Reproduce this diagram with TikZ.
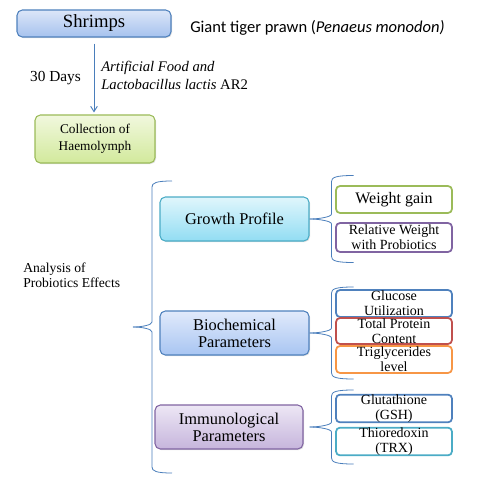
\documentclass[tikz,border=0pt]{standalone}
\usepackage{fontspec}
\setmainfont{Liberation Serif}
\newfontfamily\prawnfont{Carlito}
\usetikzlibrary{arrows.meta,shadows}

\definecolor{lineblue}{HTML}{4A7EBB}
\definecolor{shrimptop}{HTML}{DCE6F8}
\definecolor{shrimpbot}{HTML}{A6C2EE}
\definecolor{colltop}{HTML}{F1F8DE}
\definecolor{collbot}{HTML}{D2E99C}
\definecolor{growtop}{HTML}{E0F6FC}
\definecolor{growbot}{HTML}{92DDF3}
\definecolor{biotop}{HTML}{E1EAFB}
\definecolor{biobot}{HTML}{A8C5F2}
\definecolor{immtop}{HTML}{EDE7F5}
\definecolor{immbot}{HTML}{C6B5DC}
\definecolor{bdblue}{HTML}{4F81BD}
\definecolor{bdgreen}{HTML}{9BBB59}
\definecolor{bdcyan}{HTML}{4BACC6}
\definecolor{bdpurple}{HTML}{8064A2}
\definecolor{bdred}{HTML}{C0504D}
\definecolor{bdorange}{HTML}{F79646}

\tikzset{
  shadebox/.style={draw, rounded corners=4pt, line width=0.8pt, align=center,
    drop shadow={opacity=0.25,shadow xshift=0.8pt,shadow yshift=-0.8pt}},
  itembox/.style={draw, fill=white, rounded corners=3pt, line width=1.3pt,
    align=center, inner sep=0pt, minimum width=87pt, minimum height=20.25pt,
    font=\fontsize{10.5}{11.25}\selectfont},
  brace/.style={draw=lineblue, line width=0.6pt},
}

% curly bracket: tip, spine offset, half height, hook length
\newcommand{\curly}[4]{%
\draw[brace] (#1) .. controls +(9,0) and +(0,3) .. ++(#2,-5)
  -- ++(0,-#3+11) .. controls +(0,-4) and +(-#4+4,0) .. ++(#4,-6);
\draw[brace] (#1) .. controls +(9,0) and +(0,-3) .. ++(#2,5)
  -- ++(0,#3-11) .. controls +(0,4) and +(-#4+4,0) .. ++(#4,6);
}

\begin{document}
\begin{tikzpicture}[x=0.75pt,y=-0.75pt]
\useasboundingbox (0,0) rectangle (486,478);

% top part
\node[shadebox, draw=bdblue, top color=shrimptop, bottom color=shrimpbot,
  minimum width=115.5pt, minimum height=20.25pt,
  font=\fontsize{14}{15}\selectfont] (shrimp) at (94,23.5) {Shrimps};
\node[anchor=west, inner sep=0pt, font=\prawnfont\fontsize{12.4}{15}\selectfont]
  (prawn) at (190,28) {Giant tiger prawn (\textit{Penaeus monodon)}};
\node[shadebox, draw=bdgreen, top color=colltop, bottom color=collbot,
  minimum width=90pt, minimum height=36pt,
  font=\fontsize{10}{12.5}\selectfont] (coll) at (95,139) {Collection of\\Haemolymph};
\draw[lineblue, line width=0.7pt, -{Straight Barb[length=4pt,width=5pt]},
  shorten <=4.5pt, shorten >=1.5pt] (shrimp.south) -- (shrimp.south |- coll.north);
\node[inner sep=0pt, font=\fontsize{11.5}{13}\selectfont] (days) at (55.5,78) {30 Days};
\node[anchor=west, inner sep=0pt, align=left, font=\fontsize{11}{13.5}\selectfont]
  (feed) at (101,75) {\textit{Artificial Food and}\\\textit{Lactobacillus lactis} AR2};

% analysis
\node[anchor=west, inner sep=0pt, align=left, font=\fontsize{10.2}{11.25}\selectfont]
  (analysis) at (23,275.5) {Analysis of\\Probiotics Effects};
\coordinate (bigtip) at (133,327);
\curly{bigtip}{19}{146}{20}

\node[shadebox, draw=bdcyan, top color=growtop, bottom color=growbot,
  minimum width=111.75pt, minimum height=33pt,
  font=\fontsize{12.3}{12.75}\selectfont] (growth) at (234.5,219) {Growth Profile};
\node[shadebox, draw=bdblue, top color=biotop, bottom color=biobot,
  minimum width=111.75pt, minimum height=33pt,
  font=\fontsize{12.3}{12.75}\selectfont] (biochem) at (234.5,333) {Biochemical\\Parameters};
\node[shadebox, draw=bdpurple, top color=immtop, bottom color=immbot,
  minimum width=111pt, minimum height=33pt,
  font=\fontsize{12.3}{12.75}\selectfont] (immuno) at (229,427) {Immunological\\Parameters};

% growth items
\curly{growth.east}{22}{43.5}{22}
\node[itembox, draw=bdgreen, font=\fontsize{12}{13}\selectfont] (wgain) at (394,199.5) {Weight gain};
\node[itembox, draw=bdpurple, minimum height=21.75pt] (relw) at (394,237.5) {Relative Weight\\with Probiotics};

% biochemical items
\curly{biochem.east}{22}{46}{22}
\node[itembox, draw=bdblue] (gluc) at (394,303.5) {Glucose\\Utilization};
\node[itembox, draw=bdred, minimum height=19.5pt] (prot) at (394,331) {Total Protein\\Content};
\node[itembox, draw=bdorange] (trig) at (394,359.5) {Triglycerides\\level};

% immunological items
\coordinate (immtip) at ([xshift=4.5pt]immuno.east);
\curly{immtip}{22}{37}{22}
\node[itembox, draw=bdblue] (gsh) at (394,408.5) {Glutathione\\(GSH)};
\node[itembox, draw=bdcyan] (trx) at (394,441.5) {Thioredoxin\\(TRX)};
\end{tikzpicture}
\end{document}
